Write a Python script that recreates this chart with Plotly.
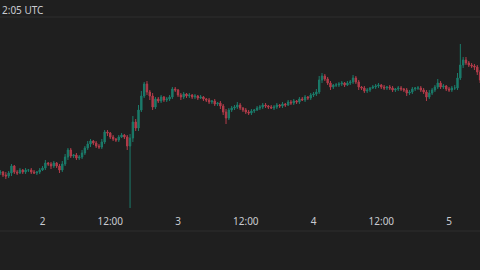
import pandas as pd
import plotly.graph_objects as go

# 30-minute candles, first candle opens 2024-01-01 16:30 UTC
first_candle = "2024-01-01 16:30"
n_candles = 171
first_open = 127

close = [
    128, 125, 124, 127, 134, 128, 127, 130, 128, 130,
    130, 128, 127, 128, 130, 132, 137, 136, 134, 137,
    134, 130, 136, 143, 150, 144, 145, 142, 143, 147,
    152, 156, 159, 157, 154, 153, 158, 168, 167, 163,
    161, 160, 163, 165, 163, 154, 162, 178, 172, 190,
    204, 216, 208, 204, 193, 201, 199, 203, 200, 201,
    203, 211, 210, 205, 203, 206, 204, 205, 203, 204,
    202, 203, 201, 200, 198, 199, 196, 197, 194, 188,
    182, 190, 192, 193, 195, 192, 190, 188, 187, 189,
    190, 192, 193, 195, 194, 193, 192, 193, 195, 194,
    196, 195, 198, 197, 199, 198, 201, 200, 203, 202,
    205, 206, 208, 220, 224, 221, 217, 213, 215, 215,
    216, 217, 215, 217, 218, 222, 218, 213, 212, 209,
    210, 212, 213, 214, 215, 213, 212, 213, 212, 210,
    211, 212, 211, 210, 207, 208, 211, 212, 212, 210,
    208, 203, 207, 210, 213, 217, 213, 214, 211, 210,
    212, 212, 222, 235, 240, 237, 235, 234, 233, 228,
    220,
]

upper_wick = [
    2, 1, 3, 2, 2, 1, 2, 2, 1, 2,
    1, 2, 2, 1, 2, 2, 3, 1, 2, 2,
    1, 2, 3, 3, 2, 2, 1, 2, 2, 3,
    2, 3, 2, 1, 2, 2, 3, 2, 2, 1,
    2, 1, 2, 2, 1, 2, 4, 6, 3, 5,
    5, 2, 3, 2, 3, 2, 2, 2, 1, 2,
    2, 2, 2, 1, 2, 2, 1, 2, 1, 2,
    1, 2, 1, 1, 2, 1, 2, 1, 2, 2,
    3, 2, 2, 2, 3, 2, 1, 2, 2, 2,
    1, 2, 2, 2, 2, 1, 2, 2, 2, 1,
    2, 1, 2, 2, 2, 1, 2, 2, 2, 1,
    2, 2, 3, 4, 3, 2, 2, 2, 1, 2,
    2, 2, 1, 2, 2, 3, 2, 2, 1, 2,
    2, 1, 2, 2, 2, 1, 2, 1, 2, 2,
    1, 2, 2, 1, 2, 2, 2, 1, 2, 2,
    2, 2, 3, 2, 2, 4, 2, 2, 1, 2,
    2, 3, 5, 21, 3, 3, 2, 2, 2, 2,
    2,
]

lower_wick = [
    2, 2, 3, 2, 3, 2, 2, 1, 2, 2,
    2, 2, 1, 2, 2, 1, 2, 2, 3, 2,
    2, 3, 2, 2, 3, 2, 2, 2, 2, 2,
    2, 2, 3, 2, 2, 2, 2, 2, 3, 2,
    2, 2, 2, 1, 2, 4, 62, 4, 3, 3,
    2, 2, 3, 4, 3, 2, 2, 2, 2, 2,
    2, 2, 2, 2, 3, 2, 2, 2, 2, 2,
    2, 1, 2, 2, 2, 2, 2, 2, 3, 3,
    6, 2, 2, 2, 2, 2, 2, 2, 2, 2,
    2, 1, 2, 2, 2, 2, 1, 2, 2, 2,
    2, 2, 1, 2, 2, 2, 2, 1, 2, 2,
    2, 2, 2, 2, 3, 2, 2, 3, 2, 2,
    2, 2, 2, 1, 2, 2, 2, 3, 2, 2,
    2, 2, 1, 2, 2, 2, 2, 2, 2, 2,
    2, 2, 2, 2, 3, 2, 2, 2, 2, 2,
    2, 4, 2, 2, 2, 2, 2, 2, 2, 2,
    2, 2, 2, 2, 3, 2, 2, 2, 3, 3,
    3,
]

tick_times = ["2024-01-02 00:00", "2024-01-02 12:00", "2024-01-03 00:00",
              "2024-01-03 12:00", "2024-01-04 00:00", "2024-01-04 12:00",
              "2024-01-05 00:00"]
tick_labels = ["2", "12:00", "3", "12:00", "4", "12:00", "5"]
clock_text = "2:05 UTC"

times = pd.date_range(first_candle, periods=n_candles, freq="30min")
opens = [first_open] + close[:-1]
highs = [max(o, c) + u for o, c, u in zip(opens, close, upper_wick)]
lows = [min(o, c) - l for o, c, l in zip(opens, close, lower_wick)]

BG = "#1f1f1f"
TXT = "#c9cbd1"
UP = "#1b7b6a"
DOWN = "#b23c4a"

fig = go.Figure(go.Candlestick(
    x=times, open=opens, high=highs, low=lows, close=close,
    increasing=dict(line=dict(color=UP, width=1), fillcolor=UP),
    decreasing=dict(line=dict(color=DOWN, width=1), fillcolor=DOWN),
    whiskerwidth=0, hoverinfo="skip",
))

fig.update_layout(
    width=480, height=270,
    margin=dict(l=0, r=0, t=18, b=60),
    paper_bgcolor=BG, plot_bgcolor=BG,
    showlegend=False,
    font=dict(family="Noto Sans, Roboto, sans-serif", color=TXT, size=10),
    xaxis=dict(
        rangeslider=dict(visible=False),
        range=["2024-01-01 16:28", "2024-01-05 05:29"],
        tickvals=tick_times, ticktext=tick_labels,
        showgrid=False, zeroline=False, showline=False, ticks="",
        tickfont=dict(size=10, color=TXT), ticklabelstandoff=4,
    ),
    yaxis=dict(range=[90, 282], visible=False, showgrid=False, zeroline=False),
    shapes=[
        dict(type="line", xref="paper", yref="paper", x0=0, x1=1,
             y0=(210 - 17) / 192, y1=(210 - 17) / 192,
             line=dict(color="#2e2e2e", width=1)),
        dict(type="line", xref="paper", yref="paper", x0=0, x1=1,
             y0=(210 - 231) / 192, y1=(210 - 231) / 192,
             line=dict(color="#2e2e2e", width=1)),
    ],
    annotations=[
        dict(text=clock_text, xref="paper", yref="paper", x=0,
             y=(210 - 10) / 192, xanchor="left", yanchor="middle",
             showarrow=False, font=dict(size=10, color=TXT)),
    ],
)

fig.write_html("out.html")
